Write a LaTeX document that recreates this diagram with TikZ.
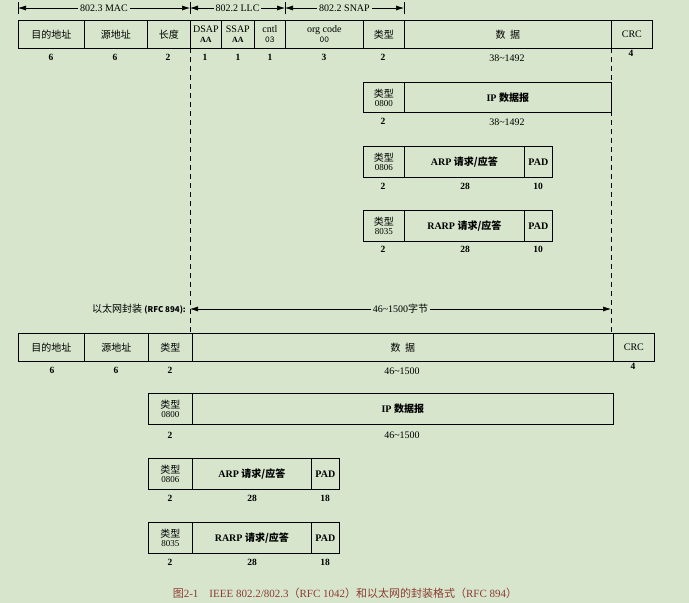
\documentclass[tikz,border=0pt]{standalone}
\usepackage{fontspec}
\setmainfont{Liberation Serif}
\newfontfamily\cjk{Noto Sans CJK SC}
\usetikzlibrary{arrows.meta}
\definecolor{bg}{RGB}{214,229,203}
\definecolor{capc}{RGB}{140,60,50}
\tikzset{
 fld/.style={draw,line width=0.7pt,inner sep=0pt,align=center,font=\fontsize{10}{11}\selectfont},
 lab/.style={font=\bfseries\fontsize{9.5}{10}\selectfont,inner sep=0pt},
 hdr/.style={font=\fontsize{10}{11}\selectfont,fill=bg,inner sep=2pt},
 dim/.style={line width=0.6pt,{Latex[length=8pt,width=5pt]}-{Latex[length=8pt,width=5pt]}},
 vdash/.style={line width=0.6pt,dash pattern=on 5pt off 4pt},
 tick/.style={line width=0.6pt}
}
\newcommand{\bx}[6]{\node[fld,minimum width={(#3-#2)*1pt},minimum height={(#5-#4)*1pt},anchor=north west] (#1) at (#2,#4) {#6};}
\newcommand{\lb}[4]{\node[lab] (#1) at (#2,#3) {#4};}
\begin{document}
\begin{tikzpicture}[x=1pt,y=-1pt]
\fill[bg] (0,0) rectangle (689,603);
\useasboundingbox (0,0) rectangle (689,603);
% dashed verticals
\coordinate (d1t) at (190,48); \coordinate (d1b) at (190,335);
\coordinate (d2t) at (611,48); \coordinate (d2b) at (611,335);
\draw[vdash] (d1t) -- (d1b);
\draw[vdash] (d2t) -- (d2b);
% header arrows
\coordinate (h0) at (18,8); \coordinate (h1) at (190,8); \coordinate (h2) at (285,8); \coordinate (h3) at (404,8);
\foreach \c in {h0,h1,h2,h3} \draw[tick] ([yshift=-6pt]\c) -- ([yshift=6pt]\c);
\draw[dim] (h0) -- node[hdr] {802.3 MAC} (h1);
\draw[dim] (h1) -- node[hdr] {802.2 LLC} (h2);
\draw[dim] (h2) -- node[hdr] {802.2 SNAP} (h3);
% top row
\bx{a1}{18}{84}{20}{48}{\cjk 目的地址}
\bx{a2}{84}{147}{20}{48}{\cjk 源地址}
\bx{a3}{147}{190}{20}{48}{\cjk 长度}
\bx{a4}{190}{221}{20}{48}{DSAP\\[-1pt]\footnotesize\bfseries AA}
\bx{a5}{221}{254}{20}{48}{SSAP\\[-1pt]\footnotesize\bfseries AA}
\bx{a6}{254}{285}{20}{48}{cntl\\[-1pt]\ttfamily\small 03}
\bx{a7}{285}{363}{20}{48}{org code\\[-1pt]\ttfamily\small 00}
\bx{a8}{363}{404}{20}{48}{\cjk 类型}
\bx{a9}{404}{611}{20}{48}{\cjk 数\ \ 据}
\bx{a10}{611}{652}{20}{48}{CRC}
\lb{la1}{51}{57}{6}\lb{la2}{115}{57}{6}\lb{la3}{168}{57}{2}\lb{la4}{205}{57}{1}\lb{la5}{238}{57}{1}
\lb{la6}{270}{57}{1}\lb{la7}{324}{57}{3}\lb{la8}{383}{57}{2}\node[font=\fontsize{10}{11}\selectfont] (la9) at (507,58) {38\textasciitilde1492};\lb{la10}{631}{53}{4}
% upper IP
\bx{b1}{363}{404}{82}{112}{\cjk 类型\\[-2pt]\small 0800}
\bx{b2}{404}{611}{82}{112}{\bfseries IP {\cjk 数据报}}
\lb{lb1}{383}{121}{2}\node[font=\fontsize{10}{11}\selectfont] (lb2) at (507,122) {38\textasciitilde1492};
% upper ARP
\bx{c1}{363}{404}{146}{177}{\cjk 类型\\[-2pt]\small 0806}
\bx{c2}{404}{524}{146}{177}{\bfseries ARP {\cjk 请求/应答}}
\bx{c3}{524}{552}{146}{177}{\bfseries PAD}
\lb{lc1}{383}{186}{2}\lb{lc2}{465}{186}{28}\lb{lc3}{538}{186}{10}
% upper RARP
\bx{e1}{363}{404}{210}{241}{\cjk 类型\\[-2pt]\small 8035}
\bx{e2}{404}{524}{210}{241}{\bfseries RARP {\cjk 请求/应答}}
\bx{e3}{524}{552}{210}{241}{\bfseries PAD}
\lb{le1}{383}{249}{2}\lb{le2}{465}{249}{28}\lb{le3}{538}{249}{10}
% middle
\node[anchor=east,inner sep=0pt,font=\fontsize{10}{11}\selectfont] (m) at (186,309) {\cjk 以太网封装 \textbf{\footnotesize(RFC 894):}};
\coordinate (m1) at (190,309); \coordinate (m2) at (611,309);
\draw[dim] (m1) -- node[hdr] {46\textasciitilde1500{\cjk 字节}} (m2);
% lower row
\bx{f1}{18}{84}{333}{361}{\cjk 目的地址}
\bx{f2}{84}{148}{333}{361}{\cjk 源地址}
\bx{f3}{148}{192}{333}{361}{\cjk 类型}
\bx{f4}{192}{613}{333}{361}{\cjk 数\ \ 据}
\bx{f5}{613}{654}{333}{361}{CRC}
\lb{lf1}{52}{370}{6}\lb{lf2}{116}{370}{6}\lb{lf3}{170}{370}{2}\node[font=\fontsize{10}{11}\selectfont] (lf4) at (402,371) {46\textasciitilde1500};\lb{lf5}{633}{366}{4}
% lower IP
\bx{g1}{148}{192}{393}{424}{\cjk 类型\\[-2pt]\small 0800}
\bx{g2}{192}{613}{393}{424}{\bfseries IP {\cjk 数据报}}
\lb{lg1}{170}{435}{2}\node[font=\fontsize{10}{11}\selectfont] (lg2) at (402,435) {46\textasciitilde1500};
% lower ARP
\bx{k1}{148}{192}{458}{489}{\cjk 类型\\[-2pt]\small 0806}
\bx{k2}{192}{311}{458}{489}{\bfseries ARP {\cjk 请求/应答}}
\bx{k3}{311}{339}{458}{489}{\bfseries PAD}
\lb{lk1}{170}{498}{2}\lb{lk2}{252}{498}{28}\lb{lk3}{325}{498}{18}
% lower RARP
\bx{r1}{148}{192}{522}{553}{\cjk 类型\\[-2pt]\small 8035}
\bx{r2}{192}{311}{522}{553}{\bfseries RARP {\cjk 请求/应答}}
\bx{r3}{311}{339}{522}{553}{\bfseries PAD}
\lb{lr1}{170}{562}{2}\lb{lr2}{252}{562}{28}\lb{lr3}{325}{562}{18}
% caption
\node[text=capc,font=\fontsize{11}{12}\selectfont] (cap) at (345,593) {{\cjk 图}2-1\quad IEEE 802.2/802.3{\cjk （}RFC 1042{\cjk ）和以太网的封装格式（}RFC 894{\cjk ）}};
\end{tikzpicture}
\end{document}
